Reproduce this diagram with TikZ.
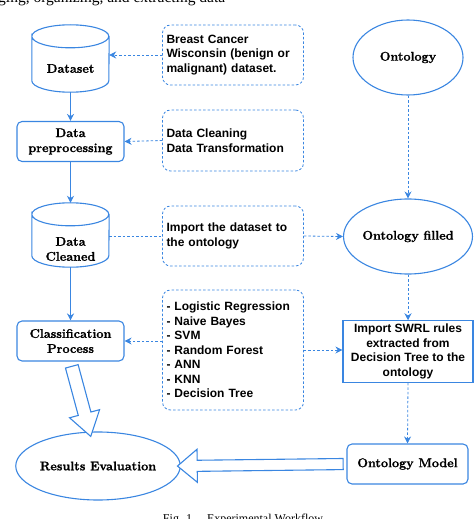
\documentclass[tikz,border=0pt]{standalone}
\usepackage{fontspec}
\usepackage{xcolor}
\setmainfont{Latin Modern Roman}[BoldFeatures={FakeBold=1.3}]
\newfontfamily\arialfont{Liberation Sans}
\newfontfamily\timesfont{Liberation Serif}
\usetikzlibrary{shapes.geometric, shapes.arrows, arrows.meta, calc}
\definecolor{flowblue}{RGB}{58,134,225}

% outline of a database drum around a named node
\newcommand{\drawdb}[1]{%
 \draw [flowblue, line width=1.1pt] ($(#1.north west)+(0,11.5)$) arc [start angle=180, end angle=-180, x radius=38.5pt, y radius=11.5pt]
  -- ($(#1.south west)+(0,-11.5)$) arc [start angle=180, end angle=360, x radius=38.5pt, y radius=11.5pt]
  -- ($(#1.north east)+(0,11.5)$);}

\begin{document}
\begin{tikzpicture}[x=1pt, y=-1pt,
  serif/.style={font=\bfseries\fontsize{12.6}{15}\selectfont, align=center},
  sans/.style={font=\arialfont\bfseries\fontsize{12}{14.5}\selectfont},
  solidbox/.style={draw=flowblue, line width=1.1pt, rounded corners=5pt, minimum width=107pt, minimum height=40pt, serif},
  dbnode/.style={rectangle, minimum width=77pt, minimum height=67pt, inner sep=0pt},
  roundnode/.style={ellipse, draw=flowblue, line width=1.1pt, inner sep=0pt, serif},
  notebox/.style={draw=flowblue, dash pattern=on 2.5pt off 2pt, line width=0.8pt, rounded corners=8pt, minimum width=141pt, text width=133pt, align=left, sans},
  flow/.style={draw=flowblue, line width=1.1pt, -{Stealth[length=7pt, width=7pt]}},
  dflow/.style={draw=flowblue, line width=0.8pt, dash pattern=on 2.5pt off 2pt, -{Stealth[length=7pt, width=7pt]}},
  dline/.style={draw=flowblue, line width=0.8pt, dash pattern=on 2.5pt off 2pt},
  fatarrow/.style={single arrow, draw=flowblue, line width=1.1pt, fill=white, single arrow head indent=0pt, inner xsep=0pt}
]
 \useasboundingbox (0,0) rectangle (474,519);
 \clip (0,0) rectangle (474,519);

 % page text cut by the crop
 \node [anchor=base west, font=\timesfont\fontsize{15.5}{17}\selectfont, inner sep=0pt] (pagetext) at (-2,3) {ging, organizing, and extracting data};
 \node [anchor=base, font=\timesfont\fontsize{12}{14}\selectfont, inner sep=0pt] (caption) at (243,522) {Fig. 1.\quad Experimental Workflow};

 % left column
 \node [dbnode, label={[serif, yshift=-10pt]center:Dataset}] (ds) at (70.5,58.5) {};
 \drawdb{ds}
 \node [solidbox] (pre) at (70.5,141.5) {Data\\preprocessing};
 \node [dbnode, minimum height=64pt, label={[serif, yshift=-14pt]center:Data\\Cleaned}] (dc) at (70.5,235) {};
 \drawdb{dc}
 \node [solidbox] (cls) at (70.5,341) {Classification\\Process};
 \node [roundnode, minimum width=162pt, minimum height=68pt] (res) at (98,466) {Results Evaluation};

 % middle column
 \node [notebox, minimum height=60pt] (src) at (233,55) {Breast Cancer\\Wisconsin (benign or\\malignant) dataset.};
 \node [notebox, minimum height=61pt] (prep) at (233,140.5) {Data Cleaning\\Data Transformation};
 \node [notebox, minimum height=60pt] (imp) at (233,236) {Import the dataset to\\the ontology};
 \node [notebox, minimum height=120pt] (algo) at (233,350) {- Logistic Regression\\- Naive Bayes\\- SVM\\- Random Forest\\- ANN\\- KNN\\- Decision Tree};

 % right column
 \node [roundnode, minimum width=110pt, minimum height=75pt] (ont) at (408,57.5) {Ontology};
 \node [roundnode, minimum width=110pt, minimum height=75pt] (ofill) at (408,236.5) {Ontology filled};
 \node [draw=flowblue, line width=1.1pt, minimum width=130pt, minimum height=61pt, align=center, sans] (swrl) at (408,351.5) {Import SWRL rules\\extracted from\\Decision Tree to the\\ontology};
 \node [solidbox, minimum width=121pt] (om) at (407.5,464) {Ontology Model};

 % connectors
 \draw [flow] (ds.south) -- (pre.north);
 \draw [flow] (pre.south) -- (dc.north);
 \draw [flow] (dc.south) -- (cls.north);
 \draw [dflow] (src.west) -- (src.west -| ds.east);
 \draw [dflow] (prep.west) -- (pre.east);
 \draw [dline] (dc.east |- imp.west) -- (imp.west);
 \draw [dflow] (imp.east) -- (ofill.west);
 \draw [dflow] (algo.west |- cls.east) -- (cls.east);
 \draw [dflow] (algo.east) -- (algo.east -| swrl.west);
 \draw [dflow] (ont.south) -- (ofill.north);
 \draw [dflow] (ofill.south) -- (swrl.north);
 \draw [dflow] (swrl.south) -- (om.north);

 % hollow arrows
 \path let \p1=(cls.south), \p2=(res.104), \n1={atan2(\y2-\y1,\x2-\x1)}, \n2={veclen(\x2-\x1,\y2-\y1)} in
  node [fatarrow, rotate=\n1, minimum height=\n2, inner ysep=6pt, single arrow head extend=9pt, single arrow tip angle=67] (fat1) at ($(\p1)!0.5!(\p2)$) {};
 \path let \p1=(om.west), \p2=(res.east), \n1={atan2(\y2-\y1,\x2-\x1)}, \n2={veclen(\x2-\x1,\y2-\y1)} in
  node [fatarrow, rotate=\n1, minimum height=\n2, inner ysep=5pt, single arrow head extend=11pt, single arrow tip angle=80] (fat2) at ($(\p1)!0.5!(\p2)$) {};
\end{tikzpicture}
\end{document}
